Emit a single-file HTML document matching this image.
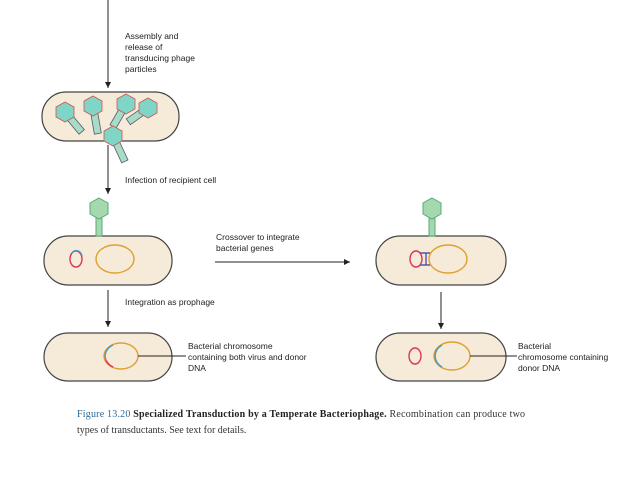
<!DOCTYPE html><html><head><style>body{margin:0;background:#fff}svg{display:block}text{font-family:"Liberation Sans",sans-serif;font-size:8.5px;fill:#222}</style></head><body>
<svg width="638" height="478" viewBox="0 0 638 478">
<defs><marker id="a" markerWidth="8" markerHeight="8" refX="6" refY="3" orient="auto"><path d="M0,0L6,3L0,6z" fill="#222"/></marker></defs>
<g fill="#f6ead8" stroke="#444" stroke-width="1.2">
<rect x="42" y="92" width="137" height="49" rx="24"/>
<rect x="44" y="236" width="128" height="49" rx="24"/>
<rect x="44" y="333" width="128" height="48" rx="24"/>
<rect x="376" y="236" width="130" height="49" rx="24"/>
<rect x="376" y="333" width="130" height="48" rx="24"/>
</g>
<g stroke="#222" stroke-width="1" marker-end="url(#a)">
<line x1="108" y1="0" x2="108" y2="88"/>
<line x1="108" y1="145" x2="108" y2="194"/>
<line x1="108" y1="290" x2="108" y2="327"/>
<line x1="215" y1="262" x2="350" y2="262"/>
<line x1="441" y1="292" x2="441" y2="329"/>
</g>
<g stroke="#557" stroke-width="0.8" fill="#a8dcc4">
<g transform="translate(65,112)"><rect x="-3.5" y="4" width="7" height="22" transform="rotate(-40)"/><polygon points="0,-10 9,-5 9,5 0,10 -9,5 -9,-5" fill="#7fd6c6" stroke="#c55"/></g>
<g transform="translate(93,106)"><rect x="-3.5" y="4" width="7" height="24" transform="rotate(-10)"/><polygon points="0,-10 9,-5 9,5 0,10 -9,5 -9,-5" fill="#7fd6c6" stroke="#c55"/></g>
<g transform="translate(126,104)"><rect x="-3.5" y="4" width="7" height="22" transform="rotate(30)"/><polygon points="0,-10 9,-5 9,5 0,10 -9,5 -9,-5" fill="#7fd6c6" stroke="#c55"/></g>
<g transform="translate(148,108)"><rect x="-3.5" y="4" width="7" height="20" transform="rotate(55)"/><polygon points="0,-10 9,-5 9,5 0,10 -9,5 -9,-5" fill="#7fd6c6" stroke="#c55"/></g>
<g transform="translate(113,136)"><rect x="-3.5" y="4" width="7" height="24" transform="rotate(-25)"/><polygon points="0,-10 9,-5 9,5 0,10 -9,5 -9,-5" fill="#7fd6c6" stroke="#c55"/></g>
</g>
<g fill="#a6d8b0" stroke="#5a7" stroke-width="1">
<rect x="96" y="214" width="6" height="22"/><polygon points="99,198 108,203 108,214 99,219 90,214 90,203"/>
<rect x="429" y="214" width="6" height="22"/><polygon points="432,198 441,203 441,214 432,219 423,214 423,203"/>
</g>
<g fill="none" stroke-width="1.4">
<ellipse cx="76" cy="259" rx="6" ry="8" stroke="#d35"/>
<path d="M72,253 A6,8 0 0 1 82,256" stroke="#49c"/>
<ellipse cx="115" cy="259" rx="19" ry="14" stroke="#e0a030"/>
<ellipse cx="121" cy="356" rx="17" ry="13" stroke="#e0a030"/>
<path d="M113,345 A17,13 0 0 0 106,360" stroke="#49c"/><path d="M106,360 A17,13 0 0 0 113,367" stroke="#d35"/>
<ellipse cx="416" cy="259" rx="6" ry="8" stroke="#d35"/>
<ellipse cx="448" cy="259" rx="19" ry="14" stroke="#e0a030"/>
<path d="M420,253 L430,253 M420,265 L430,265 M426,253 L426,265" stroke="#55a"/>
<ellipse cx="415" cy="356" rx="6" ry="8" stroke="#d35"/>
<ellipse cx="452" cy="356" rx="18" ry="14" stroke="#e0a030"/>
<path d="M442,345 A18,14 0 0 0 442,367" stroke="#49c"/>
</g>
<g stroke="#222" stroke-width="0.9"><line x1="138" y1="356" x2="186" y2="356"/><line x1="470" y1="356" x2="517" y2="356"/></g>
<text x="125" y="39">Assembly and</text><text x="125" y="50">release of</text><text x="125" y="61">transducing phage</text><text x="125" y="72">particles</text>
<text x="125" y="183">Infection of recipient cell</text>
<text x="216" y="240">Crossover to integrate</text><text x="216" y="251">bacterial genes</text>
<text x="125" y="305">Integration as prophage</text>
<text x="188" y="349">Bacterial chromosome</text><text x="188" y="360">containing both virus and donor</text><text x="188" y="371">DNA</text>
<text x="518" y="349">Bacterial</text><text x="518" y="360">chromosome containing</text><text x="518" y="371">donor DNA</text>
<text x="77" y="417" textLength="448" lengthAdjust="spacing" style="font-family:'Liberation Serif',serif;font-size:10px;fill:#333"><tspan fill="#2a6a9a">Figure 13.20</tspan>   <tspan font-weight="bold" fill="#222">Specialized Transduction by a Temperate Bacteriophage.</tspan>  Recombination can produce two</text>
<text x="77" y="433" style="font-family:'Liberation Serif',serif;font-size:10px;fill:#333">types of transductants. See text for details.</text>
</svg></body></html>
